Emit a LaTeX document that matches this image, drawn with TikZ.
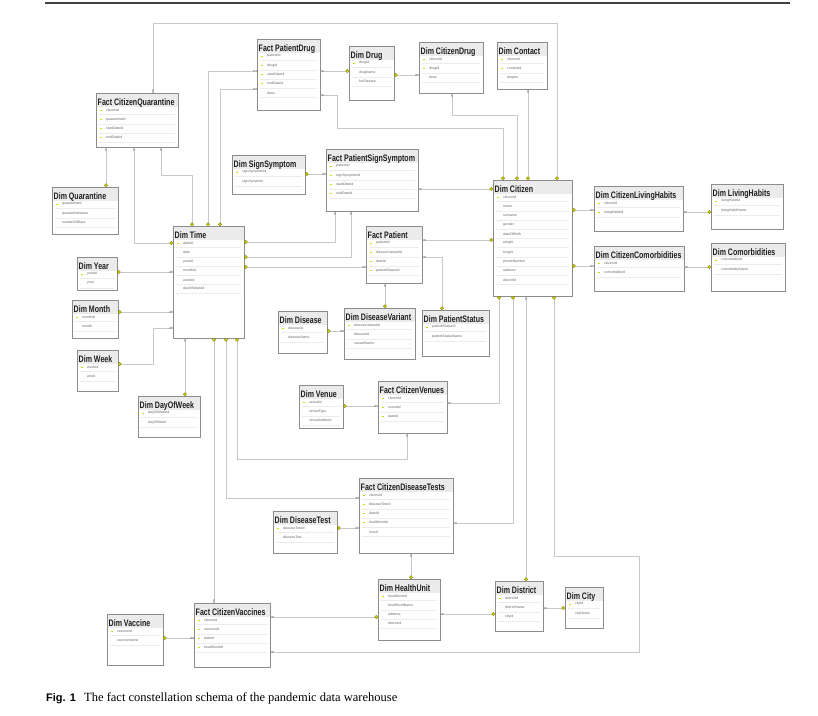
\documentclass[tikz,border=0pt]{standalone}
\usepackage{fontspec}
\setmainfont{Liberation Serif}
\newfontfamily\titlefont[FakeStretch=0.75]{Liberation Sans}
\newfontfamily\rowfont{Liberation Sans}
\newfontfamily\figfont{Liberation Sans}
\usetikzlibrary{arrows.meta,calc}
\definecolor{keyyellow}{RGB}{214,214,0}
\definecolor{keyolive}{RGB}{125,125,0}
\definecolor{linegray}{RGB}{200,200,200}
\definecolor{boxgray}{RGB}{140,140,140}
\definecolor{titlefill}{RGB}{235,235,235}
\definecolor{rowsep}{RGB}{236,236,236}
\definecolor{manygray}{RGB}{150,150,150}
\tikzset{
 tblbox/.style={draw=boxgray, line width=0.9pt, fill=white, inner sep=0pt, outer sep=0pt},
 titletext/.style={anchor=base west, inner sep=0pt, font=\titlefont\bfseries\fontsize{9.4}{10}\selectfont, text=black!88},
 rowtext/.style={anchor=west, inner sep=0pt, font=\rowfont\fontsize{3.5}{4}\selectfont, text=black!60},
 conn/.style={draw=linegray, line width=0.8pt, {Circle[open,length=1.9pt,width=1.9pt,color=manygray,line width=0.45pt]Circle[open,length=1.9pt,width=1.9pt,color=manygray,line width=0.45pt]}-{Circle[length=3.6pt,width=3.6pt,fill=keyyellow,color=keyolive,line width=0.4pt]}},
}
\newcommand\dbtable[7]{%
 \fill[black!22] ({#2+1.4},{#3+1.4}) rectangle ({#4+1.4},{#5+1.4});
 \node[tblbox, minimum width={(#4-#2)*1pt}, minimum height={(#5-#3)*1pt}] (#1) at ({(#2+#4)/2},{(#3+#5)/2}) {};
 \fill[titlefill] ({#2+0.5},{#3+0.5}) rectangle ({#4-0.5},{#3+13});
 \draw[rowsep, line width=0.5pt] ({#2+0.5},{#3+13}) -- ({#4-0.5},{#3+13});
 \node[titletext] (#1-title) at ({#2+1.5},{#3+12}) {#6};
 \foreach \kf/\rn [count=\ri from 0] in {#7} {%
   \pgfmathsetmacro\yy{#3+17+9.2*\ri}
   \draw[rowsep, line width=0.4pt] ({#2+3},{\yy+4.6}) -- ({#4-3},{\yy+4.6});
   \fill[keyyellow, opacity=\kf] ({#2+4.2},{\yy-0.5}) rectangle ({#2+5.8},{\yy+0.5});
   \node[rowtext] (#1-r\ri) at ({#2+10},\yy) {\rn};
 }%
}
\begin{document}
\begin{tikzpicture}[x=1pt,y=-1pt]
\useasboundingbox (0,0) rectangle (818,715);
\fill[white] (0,0) rectangle (818,715);
\draw[black!75, line width=2.2pt] (45,3) -- (790,3);

\dbtable{fcq}{96}{93}{178}{147}{Fact CitizenQuarantine}{1/citizenId,1/quarantineId,1/startDateId,1/endDateId}
\dbtable{dq}{52}{187}{118}{234}{Dim Quarantine}{1/quarantineId,0/quarantineName,0/numberOfDays}
\dbtable{dt}{173}{226}{244}{338}{Dim Time}{1/dateId,0/date,0/yearId,0/monthId,0/weekId,0/dayOfWeekId}
\dbtable{dy}{77}{257}{117}{290}{Dim Year}{1/yearId,0/year}
\dbtable{dm}{72}{300}{118}{338}{Dim Month}{1/monthId,0/month}
\dbtable{dw}{77}{350}{118}{391}{Dim Week}{1/weekId,0/week}
\dbtable{ddw}{138}{396}{200}{437}{Dim DayOfWeek}{1/dayOfWeekId,0/dayOfWeek}
\dbtable{fpd}{257}{39}{320}{110}{Fact PatientDrug}{1/patientId,1/drugId,1/startDateId,1/endDateId,0/dose}
\dbtable{dd}{349}{46}{394}{100}{Dim Drug}{1/drugId,0/drugName,0/forDisease}
\dbtable{dcd}{419}{42}{483}{93}{Dim CitizenDrug}{1/citizenId,1/drugId,0/dose}
\dbtable{dc}{497}{42}{547}{89}{Dim Contact}{1/citizenId,1/contactId,0/degree}
\dbtable{dss}{232}{155}{305}{194}{Dim SignSymptom}{1/signSymptomId,0/signSymptom}
\dbtable{fpss}{326}{149}{418}{211}{Fact PatientSignSymptom}{1/patientId,1/signSymptomId,1/startDateId,1/endDateId}
\dbtable{dci}{493}{180}{572}{296}{Dim Citizen}{1/citizenId,0/name,0/surname,0/gender,0/dateOfBirth,0/weight,0/height,0/phoneNumber,0/address,0/districtId}
\dbtable{dclh}{594}{186}{683}{231}{Dim CitizenLivingHabits}{1/citizenId,1/livingHabitId}
\dbtable{dlh}{711}{184}{783}{229}{Dim LivingHabits}{1/livingHabitId,0/livingHabitName}
\dbtable{dcc}{594}{246}{684}{291}{Dim CitizenComorbidities}{1/citizenId,1/comorbidityId}
\dbtable{dcm}{711}{243}{785}{291}{Dim Comorbidities}{1/comorbidityId,0/comorbidityName}
\dbtable{fp}{366}{226}{422}{283}{Fact Patient}{1/patientId,1/diseaseVariantId,1/dateId,1/patientStatusId}
\dbtable{ddis}{278}{311}{327}{353}{Dim Disease}{1/diseaseId,0/diseaseName}
\dbtable{ddv}{344}{308}{415}{359}{Dim DiseaseVariant}{1/diseaseVariantId,0/diseaseId,0/variantName}
\dbtable{dps}{422}{310}{489}{356}{Dim PatientStatus}{1/patientStatusId,0/patientStatusName}
\dbtable{dv}{299}{385}{343}{428}{Dim Venue}{1/venueId,0/venueType,0/venueAddress}
\dbtable{fcv}{378}{381}{447}{433}{Fact CitizenVenues}{1/citizenId,1/venueId,1/dateId}
\dbtable{fcdt}{359}{478}{453}{553}{Fact CitizenDiseaseTests}{1/citizenId,1/diseaseTestId,1/dateId,1/healthUnitId,0/result}
\dbtable{ddt}{273}{511}{337}{553}{Dim DiseaseTest}{1/diseaseTestId,0/diseaseTest}
\dbtable{dhu}{378}{579}{440}{640}{Dim HealthUnit}{1/healthUnitId,0/healthUnitName,0/address,0/districtId}
\dbtable{ddi}{495}{581}{543}{631}{Dim District}{1/districtId,0/districtName,0/cityId}
\dbtable{dcy}{565}{587}{603}{628}{Dim City}{1/cityId,0/cityName}
\dbtable{fcva}{194}{603}{270}{667}{Fact CitizenVaccines}{1/citizenId,1/vaccineId,1/dateId,1/healthUnitId}
\dbtable{dva}{107}{614}{163}{665}{Dim Vaccine}{1/vaccineId,0/vaccineName}

% connectors: many end first, one end last
\draw[conn] (fcq.north -| 153,0) -- (153,23) -- (557,23) -- (dci.north -| 557,0);
\draw[conn] (fcq.south -| 106,0) -- (dq.north -| 106,0);
\draw[conn] (fcq.south -| 134,0) -- (134,243) -- (dt.west |- 0,243);
\draw[conn] (fcq.south -| 161,0) -- (161,175) -- (192,175) -- (dt.north -| 192,0);
\draw[conn] (fpd.west |- 0,71) -- (208,71) -- (dt.north -| 208,0);
\draw[conn] (fpd.west |- 0,89) -- (220,89) -- (dt.north -| 220,0);
\draw[conn] (fpd.east |- 0,71) -- (dd.west |- 0,71);
\draw[conn] (dcd.west |- 0,75) -- (dd.east |- 0,75);
\draw[conn] (fpd.east |- 0,95) -- (337,95) -- (337,128) -- (503,128) -- (dci.north -| 503,0);
\draw[conn] (dcd.south -| 452,0) -- (452,115) -- (517,115) -- (dci.north -| 517,0);
\draw[conn] (dc.south -| 528,0) -- (dci.north -| 528,0);
\draw[conn] (fpss.west |- 0,174) -- (dss.east |- 0,174);
\draw[conn] (fpss.east |- 0,189) -- (dci.west |- 0,189);
\draw[conn] (fpss.south -| 335,0) -- (335,242) -- (dt.east |- 0,242);
\draw[conn] (fpss.south -| 351,0) -- (351,257) -- (dt.east |- 0,257);
\draw[conn] (fp.west |- 0,267) -- (dt.east |- 0,267);
\draw[conn] (fp.east |- 0,240) -- (dci.west |- 0,240);
\draw[conn] (fp.east |- 0,257) -- (442,257) -- (dps.north -| 442,0);
\draw[conn] (fp.south -| 385,0) -- (ddv.north -| 385,0);
\draw[conn] (ddv.west |- 0,331) -- (ddis.east |- 0,331);
\draw[conn] (dt.west |- 0,272) -- (dy.east |- 0,272);
\draw[conn] (dt.west |- 0,312) -- (dm.east |- 0,312);
\draw[conn] (dt.west |- 0,328) -- (153,328) -- (153,364) -- (dw.east |- 0,364);
\draw[conn] (dt.south -| 185,0) -- (ddw.north -| 185,0);
\draw[conn] (fcv.south -| 407,0) -- (407,459) -- (237,459) -- (dt.south -| 237,0);
\draw[conn] (fcdt.west |- 0,498) -- (226,498) -- (dt.south -| 226,0);
\draw[conn] (fcva.north -| 214,0) -- (dt.south -| 214,0);
\draw[conn] (fcv.west |- 0,406) -- (dv.east |- 0,406);
\draw[conn] (fcv.east |- 0,403) -- (499,403) -- (dci.south -| 499,0);
\draw[conn] (fcdt.east |- 0,523) -- (513,523) -- (dci.south -| 513,0);
\draw[conn] (dci.south -| 526,0) -- (ddi.north -| 526,0);
\draw[conn] (fcva.east |- 0,652) -- (639,652) -- (639,556) -- (554,556) -- (dci.south -| 554,0);
\draw[conn] (fcva.east |- 0,617) -- (dhu.west |- 0,617);
\draw[conn] (fcva.west |- 0,638) -- (dva.east |- 0,638);
\draw[conn] (fcdt.west |- 0,528) -- (ddt.east |- 0,528);
\draw[conn] (fcdt.south -| 411,0) -- (dhu.north -| 411,0);
\draw[conn] (dhu.east |- 0,614) -- (ddi.west |- 0,614);
\draw[conn] (ddi.east |- 0,608) -- (dcy.west |- 0,608);
\draw[conn] (dclh.west |- 0,210) -- (dci.east |- 0,210);
\draw[conn] (dclh.east |- 0,212) -- (dlh.west |- 0,212);
\draw[conn] (dcc.west |- 0,266) -- (dci.east |- 0,266);
\draw[conn] (dcc.east |- 0,267) -- (dcm.west |- 0,267);

% caption
\node[anchor=base west, inner sep=0pt] (figlabel) at (46,701) {\figfont\bfseries\fontsize{11}{13}\selectfont Fig. 1};
\node[anchor=base west, inner sep=0pt] (captext) at (84,701) {\fontsize{12.5}{14}\selectfont The fact constellation schema of the pandemic data warehouse};
\end{tikzpicture}
\end{document}
